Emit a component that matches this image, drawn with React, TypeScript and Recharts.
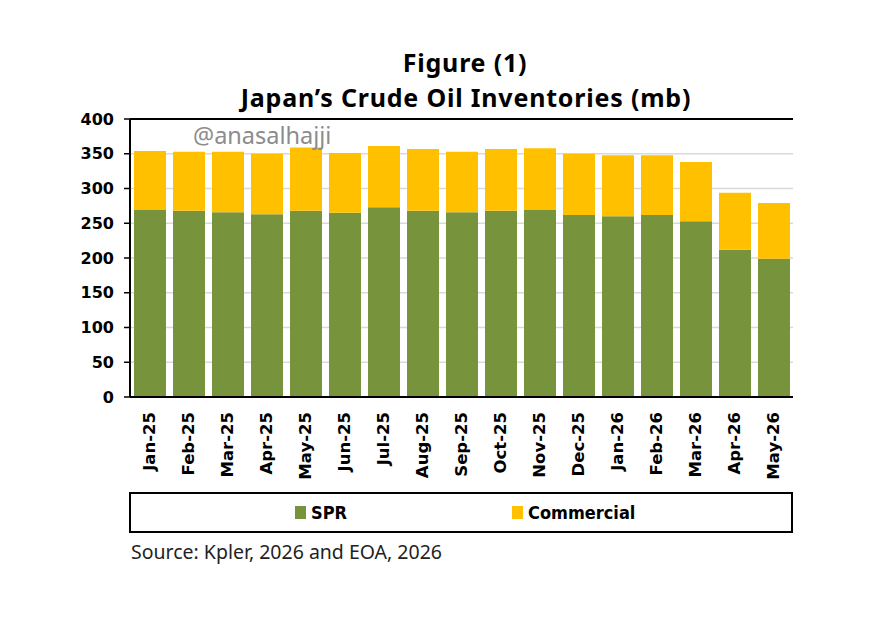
import { BarChart, Bar, XAxis, YAxis, CartesianGrid, ReferenceLine } from 'recharts'

const months = [
  'Jan-25', 'Feb-25', 'Mar-25', 'Apr-25', 'May-25', 'Jun-25', 'Jul-25', 'Aug-25', 'Sep-25',
  'Oct-25', 'Nov-25', 'Dec-25', 'Jan-26', 'Feb-26', 'Mar-26', 'Apr-26', 'May-26',
]
const sprStocks = [269, 268, 266, 263, 268, 265, 273, 268, 266, 268, 269, 262, 260, 262, 253, 212, 199]
const commercialStocks = [85, 85, 87, 87, 91, 86, 88, 89, 87, 89, 89, 88, 88, 86, 85, 82, 80]
const yTicks = [0, 50, 100, 150, 200, 250, 300, 350, 400]
// boundaries between month columns, used for the little separator ticks under the axis
const monthEdges = [0, 1, 2, 3, 4, 5, 6, 7, 8, 9, 10, 11, 12, 13, 14, 15, 16, 17]

const series = [
  { key: 'spr', name: 'SPR', color: '#77933C' },
  { key: 'commercial', name: 'Commercial', color: '#FFC000' },
]

const data = months.map((month, i) => ({
  month,
  spr: sprStocks[i],
  commercial: commercialStocks[i],
}))

const tickFont = "'DejaVu Sans', Verdana, sans-serif"
const textFont = "'Noto Sans', 'Open Sans', sans-serif"

function MonthTick({ x, y, payload }: any) {
  const ty = y + 13
  return (
    <text
      x={x}
      y={ty}
      dy="0.36em"
      transform={`rotate(-90, ${x}, ${ty})`}
      textAnchor="end"
      fontFamily={tickFont}
      fontWeight="bold"
      fontSize={16.5}
      fill="#000"
    >
      {payload.value}
    </text>
  )
}

function Legend() {
  return (
    <div
      style={{
        position: 'absolute',
        left: 129,
        top: 492,
        width: 664,
        height: 41,
        boxSizing: 'border-box',
        border: '2px solid #000',
        display: 'flex',
        alignItems: 'center',
        paddingLeft: 164,
        gap: 165,
        fontFamily: "'DejaVu Sans Condensed', 'DejaVu Sans', sans-serif",
        fontStretch: 'condensed',
        fontWeight: 'bold',
        fontSize: 18,
      }}
    >
      {series.map((s) => (
        <div key={s.key} style={{ display: 'flex', alignItems: 'center', gap: 5 }}>
          <span style={{ display: 'inline-block', width: 11, height: 13, background: s.color }} />
          <span>{s.name}</span>
        </div>
      ))}
    </div>
  )
}

export default function App() {
  return (
    <div style={{ position: 'absolute', left: 0, top: 0, width: 872, height: 633, background: '#fff' }}>
      <BarChart
        width={872}
        height={633}
        data={data}
        margin={{ top: 119, right: 79, bottom: 146, left: 60 }}
        barSize={32}
      >
        <CartesianGrid xAxisId="cat" yAxisId="left" vertical={false} stroke="#d9d9d9" strokeWidth={1.5} />
        <XAxis
          xAxisId="edges"
          type="number"
          domain={[0, 17]}
          ticks={monthEdges}
          tick={false}
          tickSize={6}
          height={0}
          axisLine={false}
          tickLine={{ stroke: '#000', strokeWidth: 1.5 }}
        />
        <XAxis
          xAxisId="cat"
          dataKey="month"
          interval={0}
          tick={<MonthTick />}
          tickLine={false}
          tickSize={0}
          height={90}
          axisLine={{ stroke: '#000', strokeWidth: 2 }}
        />
        <YAxis
          yAxisId="left"
          domain={[0, 400]}
          ticks={yTicks}
          width={70}
          tickSize={6}
          tickMargin={10}
          tickLine={{ stroke: '#000', strokeWidth: 1.5 }}
          axisLine={{ stroke: '#000', strokeWidth: 2 }}
          tick={{ fill: '#000', fontFamily: tickFont, fontWeight: 'bold', fontSize: 16 }}
        />
        <YAxis
          yAxisId="right"
          orientation="right"
          domain={[0, 400]}
          width={0}
          tick={false}
          tickLine={false}
          axisLine={{ stroke: '#000', strokeWidth: 2 }}
        />
        <ReferenceLine xAxisId="cat" yAxisId="left" y={400} stroke="#000" strokeWidth={2} />
        {series.map((s) => (
          <Bar
            key={s.key}
            xAxisId="cat"
            yAxisId="left"
            dataKey={s.key}
            name={s.name}
            stackId="stock"
            fill={s.color}
            isAnimationActive={false}
          />
        ))}
      </BarChart>
      <svg
        width={872}
        height={633}
        style={{ position: 'absolute', left: 0, top: 0, pointerEvents: 'none' }}
      >
        <text x={465} y={72} textAnchor="middle" fontFamily={textFont} fontWeight="bold" fontSize={25} letterSpacing={0.8} fill="#000">
          Figure (1)
        </text>
        <text x={466} y={107} textAnchor="middle" fontFamily={textFont} fontWeight="bold" fontSize={25} letterSpacing={0.8} fill="#000">
          Japan’s Crude Oil Inventories (mb)
        </text>
        <text x={193} y={144} fontFamily={textFont} fontSize={23.5} fill="#8c8c8c">
          @anasalhajji
        </text>
        <text x={131} y={559} fontFamily={textFont} fontSize={19.5} fill="#222">
          Source: Kpler, 2026 and EOA, 2026
        </text>
      </svg>
      <Legend />
    </div>
  )
}
